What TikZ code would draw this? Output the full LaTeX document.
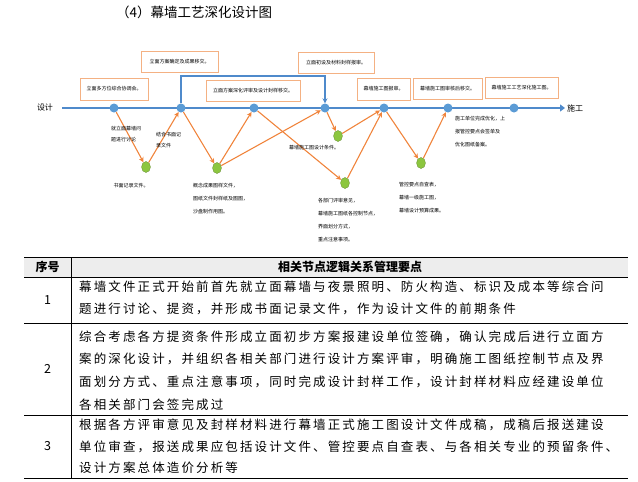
\documentclass[tikz,border=0pt]{standalone}
\usepackage{fontspec}
\setmainfont{Noto Sans CJK SC}
\newfontfamily\tfont[LetterSpace=17]{Noto Sans CJK SC}
\usetikzlibrary{arrows.meta,shapes.geometric}
\definecolor{lblue}{HTML}{4F8ACB}
\definecolor{dotb}{HTML}{5B9BD5}
\definecolor{org}{HTML}{F0843C}
\definecolor{obox}{HTML}{F4B183}
\definecolor{grn}{HTML}{8CC63F}
\definecolor{hdr}{HTML}{EDEDED}
\tikzset{
 bdot/.style={circle,fill=dotb,minimum size=9pt,inner sep=0pt},
 gdot/.style={ellipse,fill=grn,draw=grn!70!black,line width=0.3pt,minimum width=9pt,minimum height=11pt,inner sep=0pt},
 lbox/.style={draw=obox,line width=0.9pt,fill=white,inner sep=0pt,font=\fontsize{5}{6}\selectfont},
 sm/.style={font=\fontsize{5}{6}\selectfont,inner sep=0pt,align=left},
 oar/.style={draw=org,line width=1.1pt,-{Stealth[length=5pt,width=5pt]}},
 ttxt/.style={font=\tfont\fontsize{12.5}{14}\selectfont,inner sep=0pt,anchor=west},
}
\begin{document}
\begin{tikzpicture}[x=1pt,y=-1pt]
\useasboundingbox (0,0) rectangle (638,482);
\node[font=\fontsize{13.5}{15}\selectfont,anchor=west,inner sep=0] (title) at (116,12) {（4）幕墙工艺深化设计图};
% main line
\node[font=\fontsize{8}{9}\selectfont,inner sep=0] (des) at (45,107) {设计};
\node[font=\fontsize{8}{9}\selectfont,inner sep=0,anchor=west] (sg) at (567,108) {施工};
\draw[lblue,line width=2.4pt,-{Triangle[length=5pt,width=7pt]}] (62,108) -- (565,108);
\foreach \n/\x in {d1/114,d2/181,d3/254,d4/325,d5/384,d6/448,d7/514}
  \node[bdot] (\n) at (\x,108) {};
\node[gdot] (g1) at (146,167) {};
\node[gdot] (g2) at (217,168) {};
\node[gdot] (g3) at (338,136) {};
\node[gdot] (g4) at (345,183) {};
\node[gdot] (g5) at (421,163) {};
\draw[lblue,line width=1.2pt,-{Stealth[length=5pt,width=5pt]}] (d2.north) |- (325,76) -- (d4.north);
\node[lbox,minimum width=68pt,minimum height=22pt] (b1) at (114,89) {立面多方位综合协调会。};
\node[lbox,minimum width=77pt,minimum height=21pt] (b2) at (179.5,62) {立面方案确定及成果移交。};
\node[lbox,minimum width=94pt,minimum height=21pt] (b3) at (253,90.5) {立面方案深化评审及设计封样移交。};
\node[lbox,minimum width=76pt,minimum height=21pt] (b4) at (336,62.5) {立面初设及材料封样报审。};
\node[lbox,minimum width=53pt,minimum height=22pt] (b5) at (383.5,89) {幕墙施工图报审。};
\node[lbox,minimum width=69pt,minimum height=21pt] (b6) at (447.5,88.5) {幕墙施工图审核后移交。};
\node[lbox,minimum width=73pt,minimum height=21pt] (b7) at (521.5,87.5) {幕墙施工工艺深化施工图。};
\draw[oar] (d1) -- (g1);
\draw[oar] (g1) -- (d2);
\draw[oar] (d2) -- (g2);
\draw[oar] (g2) -- (d3);
\draw[oar] (g2) -- (d4);
\draw[oar] (d3) -- (g4);
\draw[oar] (g4) -- (d5);
\draw[oar] (d4) -- (g3);
\draw[oar] (g3) -- (d5);
\draw[oar] (d5) -- (g5);
\draw[oar] (g5) -- (d6);
\node[sm,anchor=north west] (l1) at (111,126) {就立面幕墙问\\[5pt]题进行讨论};
\node[sm,anchor=north west] (l2) at (156,132) {结合书面记\\[5pt]录文件};
\node[sm] (l3) at (131,186) {书面记录文件。};
\node[sm,anchor=north west] (l4) at (193,183) {概念成果图样文件，\\[7pt]图纸文件封样纸及图图，\\[7pt]沙盘制作用图。};
\node[sm] (l5) at (314,148) {幕墙施工图设计条件。};
\node[sm,anchor=north west] (l6) at (318,198) {各部门评审意见，\\[7pt]幕墙施工图纸各控制节点，\\[7pt]界面划分方式，\\[7pt]重点注意事项。};
\node[sm,anchor=north west] (l7) at (399,182) {管控要点自查表，\\[7pt]幕墙一级施工图，\\[7pt]幕墙设计预算成果。};
\node[sm,anchor=north west] (l8) at (455,116) {施工单位完成优化，上\\[7pt]报管控要点会签单及\\[7pt]优化图纸备案。};
% table
\fill[hdr] (24,257) rectangle (628,277);
\draw[line width=0.6pt] (24,257) -- (628,257);
\draw[line width=0.5pt] (24,277) -- (628,277) (24,323) -- (628,323) (24,415) -- (628,415) (24,478) -- (628,478);
\draw[line width=0.5pt] (71,257) -- (71,478);
\node[font=\fontsize{12}{14}\bfseries\selectfont,inner sep=0] (h1) at (47.5,267) {序号};
\node[font=\fontsize{12}{14}\bfseries\selectfont,inner sep=0] (h2) at (350,267) {相关节点逻辑关系管理要点};
\node[font=\fontsize{12.5}{14}\selectfont,inner sep=0] (n1) at (47.5,300) {1};
\node[font=\fontsize{12.5}{14}\selectfont,inner sep=0] (n2) at (47.5,369) {2};
\node[font=\fontsize{12.5}{14}\selectfont,inner sep=0] (n3) at (47.5,446) {3};
\node[ttxt] (r1a) at (79,287) {幕墙文件正式开始前首先就立面幕墙与夜景照明、防火构造、标识及成本等综合问};
\node[ttxt] (r1b) at (79,309) {题进行讨论、提资，并形成书面记录文件，作为设计文件的前期条件};
\node[ttxt] (r2a) at (79,337) {综合考虑各方提资条件形成立面初步方案报建设单位签确，确认完成后进行立面方};
\node[ttxt] (r2b) at (79,359) {案的深化设计，并组织各相关部门进行设计方案评审，明确施工图纸控制节点及界};
\node[ttxt] (r2c) at (79,382) {面划分方式、重点注意事项，同时完成设计封样工作，设计封样材料应经建设单位};
\node[ttxt] (r2d) at (79,405) {各相关部门会签完成过};
\node[ttxt] (r3a) at (79,425) {根据各方评审意见及封样材料进行幕墙正式施工图设计文件成稿，成稿后报送建设};
\node[ttxt] (r3b) at (79,447) {单位审查，报送成果应包括设计文件、管控要点自查表、与各相关专业的预留条件、};
\node[ttxt] (r3c) at (79,468) {设计方案总体造价分析等};
\end{tikzpicture}
\end{document}
